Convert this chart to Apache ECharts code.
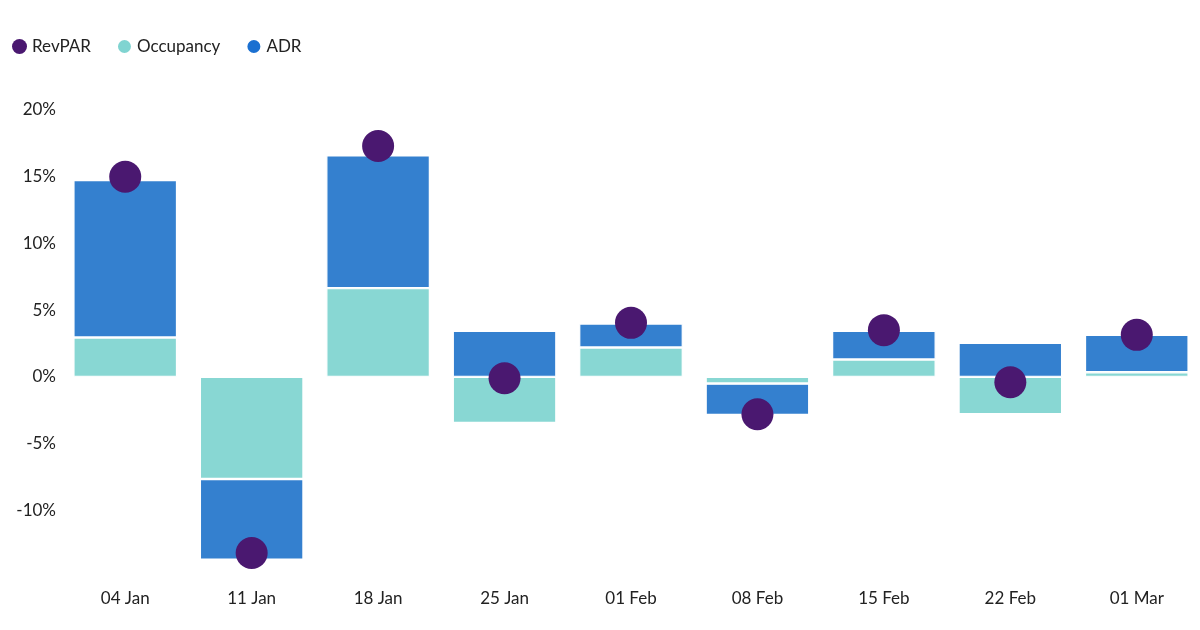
<!DOCTYPE html>
<html>
<head>
<meta charset="utf-8">
<script src="https://cdn.jsdelivr.net/npm/echarts@6/dist/echarts.min.js"></script>
<style>
  html, body { margin: 0; padding: 0; background: #fff; }
  #chart { width: 1200px; height: 630px; }
</style>
</head>
<body>
<div id="chart"></div>
<script>
// week labels
var weeks = ["04 Jan", "11 Jan", "18 Jan", "25 Jan", "01 Feb", "08 Feb", "15 Feb", "22 Feb", "01 Mar"];
// % change
var occupancy = [2.95, -7.65, 6.65, -3.45, 2.2, -0.5, 1.3, -2.8, 0.35];
var adr = [11.8, -6.05, 9.95, 3.45, 1.8, -2.35, 2.15, 2.55, 2.8];
var revpar = [15.0, -13.2, 17.3, -0.1, 4.05, -2.8, 3.5, -0.4, 3.15];

var fontName = "Lato, 'Open Sans', sans-serif";

var chart = echarts.init(document.getElementById("chart"));
chart.setOption({
  animation: false,
  textStyle: { fontFamily: fontName },
  legend: {
    left: 12,
    top: 38,
    padding: 0,
    icon: "circle",
    itemWidth: 15,
    itemHeight: 15,
    itemGap: 25,
    textStyle: { fontSize: 17, color: "#222" },
    data: [
      { name: "RevPAR" },
      { name: "Occupancy", itemStyle: { color: "#80d4d1" } },
      { name: "ADR", itemStyle: { color: "#1b70d1" } },
    ],
  },
  grid: {
    left: 62,
    right: -1,
    top: 110,
    bottom: 53,
  },
  xAxis: {
    type: "category",
    data: weeks,
    axisLine: { show: false },
    axisTick: { show: false },
    axisLabel: { color: "#222", fontSize: 17, margin: 13 },
  },
  yAxis: {
    type: "value",
    min: -15,
    max: 20,
    interval: 5,
    splitLine: { show: false },
    axisLine: { show: false },
    axisTick: { show: false },
    axisLabel: {
      color: "#222",
      fontSize: 17,
      margin: 6,
      showMinLabel: false,
      formatter: function (value) {
        return value + "%";
      },
    },
  },
  series: [
    {
      name: "Occupancy",
      type: "bar",
      stack: "total",
      data: occupancy,
      barCategoryGap: "18%",
      itemStyle: { color: "#88d7d3", borderColor: "#fff", borderWidth: 1.2 },
    },
    {
      name: "ADR",
      type: "bar",
      stack: "total",
      data: adr,
      itemStyle: { color: "#3480cf", borderColor: "#fff", borderWidth: 1.2 },
    },
    {
      name: "RevPAR",
      type: "scatter",
      data: revpar,
      symbolSize: 32,
      z: 5,
      itemStyle: { color: "#4a1870", opacity: 1 },
    },
  ],
});
</script>
</body>
</html>
